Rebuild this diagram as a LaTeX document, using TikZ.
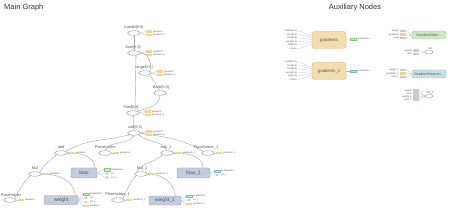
\documentclass[tikz,border=0pt]{standalone}
\usepackage{fontspec}
\setmainfont{Liberation Sans}
\usetikzlibrary{shapes.geometric,arrows.meta}
\definecolor{edgec}{HTML}{ABABAB}
\definecolor{txt}{HTML}{555555}
\definecolor{varfill}{HTML}{C3CBDF}
\definecolor{vardraw}{HTML}{8E9CBA}
\definecolor{gradfill}{HTML}{F3DDAE}
\definecolor{graddraw}{HTML}{D3B278}
\definecolor{gdfill}{HTML}{CFE8C4}
\definecolor{gddraw}{HTML}{8FC27E}
\definecolor{gdafill}{HTML}{C8E2E4}
\definecolor{gdadraw}{HTML}{85B8BE}
\definecolor{tagyel}{HTML}{F2D48C}
\newcommand\myGD{GradientDe...}
\begin{document}
\begin{tikzpicture}[x=1pt,y=-1pt,
  titlef/.style={font=\fontsize{7.5}{8}\selectfont, text=black!80, inner sep=0},
  op/.style={ellipse, draw=black!45, fill=white, minimum width=13pt, minimum height=4.5pt, inner sep=0pt, line width=0.35pt},
  lbl/.style={font=\fontsize{3.8}{4}\selectfont, text=txt, inner sep=0pt},
  var/.style={rectangle, rounded corners=2pt, draw=vardraw, fill=varfill, font=\fontsize{5}{5}\selectfont, text=txt, inner sep=0, line width=0.4pt},
  tagY/.style={rectangle, minimum width=6pt, minimum height=2.4pt, inner sep=0, fill=tagyel},
  tagB/.style={rectangle, minimum width=6pt, minimum height=2.4pt, inner sep=0, fill=varfill},
  tagG/.style={rectangle, minimum width=6pt, minimum height=2.4pt, inner sep=0, fill=gdfill, draw=gddraw, line width=0.2pt},
  tagT/.style={rectangle, minimum width=6pt, minimum height=2.4pt, inner sep=0, fill=gdafill, draw=gdadraw, line width=0.2pt},
  tagC/.style={ellipse, minimum width=3pt, minimum height=2pt, inner sep=0, draw=black!40, line width=0.2pt, fill=white},
  tagtxt/.style={font=\fontsize{2.3}{2.4}\selectfont, anchor=west, inner sep=0, text=txt},
  e/.style={draw=edgec, line width=0.45pt},
  ea/.style={draw=edgec, line width=0.45pt, -{Stealth[length=1.6pt,width=1.4pt]}},
  et/.style={draw=black!30, line width=0.2pt},
  auxbox/.style={rectangle, rounded corners=2.5pt, inner sep=0, line width=0.4pt, text=txt},
  auxin/.style={font=\fontsize{2.4}{2.5}\selectfont, anchor=east, inner sep=0, text=txt}
]
\useasboundingbox (0,0) rectangle (474,219);
\fill[white] (0,0) rectangle (474,219);

% titles
\node[titlef, anchor=west] (tmain) at (4,8) {Main Graph};
\node[titlef] (taux) at (355,8) {Auxiliary Nodes};

% ---------- main graph ops ----------
\node[op] (truediv) at (134,33) {};
\node[lbl] (truedivL) at (134,27.5) {truediv[0-5]};
\node[op] (Sum) at (134,53) {};
\node[lbl] (SumL) at (133,47.5) {Sum[0-5]};
\node[op] (range) at (145,73) {};
\node[lbl] (rangeL) at (144,67.5) {range[0-5]};
\node[op] (Rank) at (160,93) {};
\node[lbl] (RankL) at (161,87.5) {Rank[0-5]};
\node[op] (Pow) at (133,113) {};
\node[lbl] (PowL) at (131,107.5) {Pow[0-5]};
\node[op] (sub) at (134,133) {};
\node[lbl] (subL) at (135,127.5) {sub[0-5]};
\node[op] (add) at (61,153) {};
\node[lbl] (addL) at (61,147.5) {add};
\node[op] (ph) at (105,153) {};
\node[lbl] (phL) at (105,147.5) {Placeholder};
\node[op] (addone) at (167,153) {};
\node[lbl] (addoneL) at (166,147.5) {add\_1};
\node[op] (phone) at (208,153) {};
\node[lbl] (phoneL) at (206,147.5) {Placeholder\_1};
\node[op] (Mul) at (35,174) {};
\node[lbl] (MulL) at (35,168.5) {Mul};
\node[op] (Mulone) at (141,174) {};
\node[lbl] (MuloneL) at (142,168.5) {Mul\_1};
\node[op] (phb) at (10,200) {};
\node[lbl, anchor=west] (phbL) at (0.8,195) {Placeholder};
\node[op] (phoneb) at (118,200) {};
\node[lbl] (phonebL) at (117.5,195) {Placeholder\_1};

\node[var, minimum width=26pt, minimum height=10pt] (bias) at (84,173) {bias};
\node[var, minimum width=33pt, minimum height=10pt] (biasone) at (193.5,173) {bias\_1};
\node[var, minimum width=34pt, minimum height=9pt] (weight) at (61,200) {weight};
\node[var, minimum width=32pt, minimum height=9pt] (weightone) at (165,200.5) {weight\_1};

% ---------- main graph edges ----------
\draw[ea] (Sum.north) -- (truediv.south);
\draw[ea] (range.north east) to[out=70,in=-5] (Sum.east);
\draw[ea] (Rank.north) -- (range.south east);
\draw[ea] (Rank.south) to[out=-90,in=20] (Pow.north east);
\draw[ea] ([xshift=2pt]Pow.north) -- ([xshift=2pt]Sum.south);
\draw[ea] (sub.north) -- (Pow.south);
\draw[ea] (add.north east) to[out=30,in=195] (sub.south west);
\draw[ea] (ph.north) to[out=60,in=235] (sub.south);
\draw[ea] (addone.north) to[out=120,in=-40] (sub.south east);
\draw[ea] (phone.north west) to[out=150,in=-10] (sub.east);
\draw[ea] (Mul.north east) to[out=60,in=225] (add.south west);
\draw[ea] ([xshift=-2pt]bias.north east) to[out=95,in=0] (add.east);
\draw[ea] (phb.north east) to[out=60,in=225] (Mul.south west);
\draw[ea] ([xshift=-3pt]weight.north east) to[out=95,in=0] (Mul.east);
\draw[ea] (Mulone.north west) to[out=60,in=225] (addone.south west);
\draw[ea] ([xshift=-7pt]biasone.north east) to[out=95,in=0] (addone.east);
\draw[ea] (phoneb.north east) to[out=60,in=225] (Mulone.south west);
\draw[ea] ([xshift=-6pt]weightone.north east) to[out=95,in=0] (Mulone.east);

% ---------- annotations ----------
\foreach \n/\x/\y/\c/\t [count=\i] in {
  truediv/149/31.5/tagY/gradients, truediv/149/35/tagY/gradients\_1,
  Sum/149/51.5/tagY/gradients, Sum/149/55/tagY/gradients\_1,
  range/160/71.5/tagY/gradients, range/160/75/tagY/gradients\_1,
  Pow/148/111.5/tagY/gradients, Pow/148/115/tagY/gradients\_1,
  sub/149/131.5/tagY/gradients, sub/149/135/tagY/gradients\_1,
  add/72/153/tagY/gradients, ph/116/153/tagY/gradients,
  addone/179/153/tagY/gradients\_1, phone/219/153/tagY/gradients\_1,
  Mul/46/174/tagY/gradients, Mulone/152/174/tagY/gradients\_1,
  phb/21/200/tagY/gradients, phoneb/129/200/tagY/gradients\_1,
  bias/107/169.5/tagG/\myGD, bias/107/173.5/tagC/init, bias/107/177.5/tagC/init\_1,
  weight/86/194/tagG/\myGD, weight/86/198/tagC/init, weight/86/202/tagC/init\_1, weight/86/206/tagY/gradients,
  biasone/217/171/tagT/\myGD, biasone/217/175/tagC/init\_1,
  weightone/189/196/tagT/\myGD, weightone/189/200/tagC/init\_1, weightone/189/204/tagY/gradients\_1%
} {
  \node[\c] (tg\i) at (\x,\y) {};
  \node[tagtxt] (tt\i) at (\x+4,\y) {\t};
  \draw[et] (\n.east) -- (tg\i.west);
}

% ---------- auxiliary nodes ----------
\node[auxbox, fill=gradfill, draw=graddraw, minimum width=34pt, minimum height=17pt, font=\fontsize{4.3}{5}\selectfont] (gradients) at (329,40) {gradients};
\node[auxbox, fill=gradfill, draw=graddraw, minimum width=34pt, minimum height=17pt, font=\fontsize{4.3}{5}\selectfont] (gradientsone) at (329,71) {gradients\_1};

\foreach \t/\y [count=\i] in {truediv[0-5]/31, Sum[0-5]/34.5, Pow[0-5]/38, range[0-5]/41.5, sub[0-5]/45, 3 more/48.5} {
  \node[auxin] (gi\i) at (297,\y) {\t};
  \draw[et] ([xshift=0.8pt]gi\i.east) to[out=0,in=180] (312,34.5+\i*1.6);
  \node[auxin] (gj\i) at (297,\y+31) {\t};
  \draw[et] ([xshift=0.8pt]gj\i.east) to[out=0,in=180] (312,65.5+\i*1.6);
}
\foreach \n/\y/\c [count=\i] in {gradients/39/tagG, gradientsone/71/tagT} {
  \node[\c] (ag\i) at (353,\y) {};
  \node[tagtxt] (agt\i) at (357,\y) {\myGD};
  \draw[et] (\n.east) -- (ag\i.west);
}

\node[auxbox, fill=gdfill, draw=gddraw, minimum width=34pt, minimum height=8pt, font=\fontsize{3.6}{4}\selectfont] (gd) at (429,35) {GradientDesc...};
\node[auxbox, fill=gdafill, draw=gdadraw, minimum width=34pt, minimum height=8pt, font=\fontsize{3.6}{4}\selectfont] (gdone) at (429,74) {GradientDescen...};
\node[op, minimum width=8pt, minimum height=4pt] (init) at (429,52) {};
\node[lbl, font=\fontsize{2.8}{3}\selectfont] (initL) at (430,48.5) {init};
\node[op, minimum width=8pt, minimum height=4pt] (initone) at (429,96) {};
\node[lbl, font=\fontsize{2.8}{3}\selectfont] (initoneL) at (430,92.5) {init\_1};

\foreach \n/\t/\x/\y/\c [count=\i] in {
  gd/weight/403/31/tagB, gd/gradients/403/34.5/tagY, gd/bias/403/38/tagB,
  init/weight/416/50.5/tagB, init/bias/416/54/tagB,
  gdone/weight\_1/403/70/tagB, gdone/gradients\_1/403/73.5/tagY, gdone/bias\_1/403/77/tagB,
  initone/weight/416/90.5/tagB, initone/bias/416/93.5/tagB, initone/weight\_1/416/96.5/tagB, initone/bias\_1/416/99.5/tagB%
} {
  \node[\c] (ai\i) at (\x,\y) {};
  \node[auxin] (ait\i) at (\x-4,\y) {\t};
  \draw[et] (ai\i.east) to[out=0,in=180] (\n.west);
}
\end{tikzpicture}
\end{document}
